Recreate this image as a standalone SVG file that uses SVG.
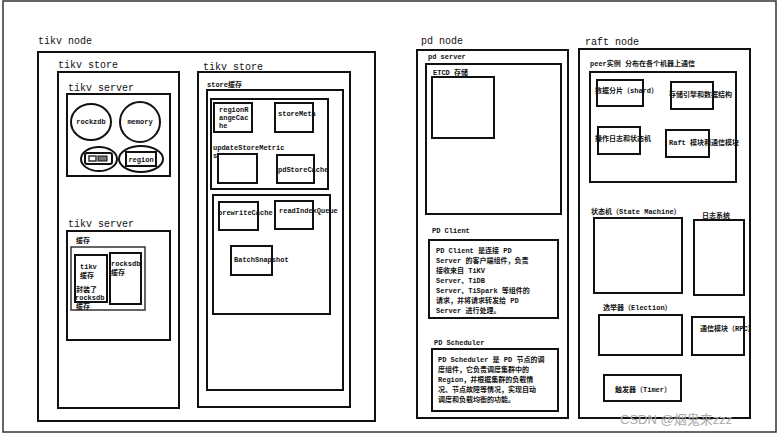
<svg xmlns="http://www.w3.org/2000/svg" width="779" height="435" viewBox="0 0 779 435">
<style>
.b{fill:none;stroke:#111;stroke-width:2}
.t{fill:none;stroke:#333;stroke-width:1.5}
.h{font-family:"Liberation Mono","Noto Sans CJK SC",monospace;font-size:10px;fill:#111}
.s{font-family:"Liberation Mono","Noto Sans CJK SC",monospace;font-size:7px;font-weight:bold;fill:#111}
.w{font-family:"Liberation Sans","Noto Sans CJK SC",sans-serif;font-size:13px;fill:#aaa}
</style>
<rect width="779" height="435" fill="#fff"/>
<rect x="3" y="1" width="773" height="431" class="t"/>
<g id="tikv-node">
<text x="38" y="44" class="h">tikv node</text>
<rect x="38" y="52" width="337" height="369" class="b"/>
</g>
<g id="tikv-store-1">
<text x="58" y="68" class="h">tikv store</text>
<rect x="58" y="72" width="121" height="336" class="b"/>
</g>
<g id="tikv-server-1">
<text x="68" y="91" class="h">tikv server</text>
<rect x="67" y="94" width="103" height="82" class="b"/>
<ellipse cx="91" cy="122" rx="20" ry="18" class="b"/>
<text x="91" y="124" class="s" text-anchor="middle" font-size="6">rockzdb</text>
<ellipse cx="140" cy="122" rx="20" ry="20" class="b"/>
<text x="140" y="124" class="s" text-anchor="middle" font-size="6">memory</text>
<ellipse cx="99" cy="159" rx="18" ry="12" class="b"/>
<rect x="85" y="153" width="27" height="11" rx="2" class="b"/>
<rect x="89" y="156" width="7" height="5" class="t"/>
<rect x="98" y="156" width="9" height="5" fill="#777" stroke="#111"/>
<ellipse cx="141" cy="159" rx="22" ry="13" class="b"/>
<rect x="126" y="152" width="30" height="14" class="b"/>
<text x="141" y="162" class="s" text-anchor="middle" font-size="6">region</text>
</g>
<g id="tikv-server-2">
<text x="68" y="227" class="h">tikv server</text>
<rect x="67" y="231" width="103" height="109" class="b"/>
<text x="76" y="243" class="s">缓存</text>
<rect x="71" y="247" width="74" height="63" class="t"/>
<rect x="75" y="255" width="32" height="47" class="b"/>
<text x="80" y="269" class="s" font-size="6">tikv</text>
<text x="80" y="278" class="s">缓存</text>
<text x="76" y="292" class="s">封装了</text>
<text x="75" y="300" class="s" font-size="6">rocksdb</text>
<text x="76" y="309" class="s">缓存</text>
<rect x="110" y="253" width="31" height="51" class="b"/>
<text x="111" y="266" class="s" font-size="6">rocksdb</text>
<text x="111" y="275" class="s">缓存</text>
</g>
<g id="tikv-store-2">
<text x="203" y="70" class="h">tikv store</text>
<rect x="198" y="72" width="152" height="335" class="b"/>
<text x="207" y="87" class="s" font-size="6">store缓存</text>
<rect x="207" y="90" width="136" height="300" class="b"/>
<rect x="211" y="99" width="117" height="90" class="b"/>
<rect x="214" y="103" width="38" height="29" class="b"/>
<text x="219" y="112" class="s" font-size="6">regionR</text>
<text x="219" y="120" class="s" font-size="6">angeCac</text>
<text x="219" y="128" class="s" font-size="6">he</text>
<rect x="275" y="103" width="38" height="29" class="b"/>
<text x="278" y="116" class="s" font-size="6">storeMeta</text>
<text x="213" y="150" class="s" font-size="6">updateStoreMetric</text>
<text x="213" y="158" class="s" font-size="6">s</text>
<rect x="218" y="154" width="39" height="29" class="b"/>
<rect x="277" y="155" width="37" height="28" class="b"/>
<text x="278" y="172" class="s" font-size="6">pdStoreCache</text>
<rect x="213" y="195" width="117" height="119" class="b"/>
<rect x="219" y="202" width="39" height="28" class="b"/>
<text x="218" y="215" class="s" font-size="6">prewriteCache</text>
<rect x="275" y="201" width="38" height="28" class="b"/>
<text x="279" y="213" class="s" font-size="6">readIndexQueue</text>
<rect x="231" y="246" width="41" height="29" class="b"/>
<text x="234" y="262" class="s" font-size="6">BatchSnapshot</text>
</g>
<g id="pd-node">
<text x="421" y="44" class="h">pd node</text>
<rect x="417" y="50" width="151" height="368" class="b"/>
<text x="428" y="59" class="s" font-size="6">pd server</text>
<rect x="426" y="64" width="135" height="150" class="b"/>
<text x="433" y="75" class="s" font-size="6">ETCD 存储</text>
<rect x="432" y="77" width="62" height="61" class="b"/>
<text x="432" y="233" class="s" font-size="6">PD Client</text>
<rect x="429" y="240" width="129" height="78" class="b"/>
<g class="s" font-size="6">
<text x="436" y="253">PD Client 是连接 PD</text>
<text x="436" y="263">Server 的客户端组件，负责</text>
<text x="436" y="273">接收来自 TiKV</text>
<text x="436" y="283">Server、TiDB</text>
<text x="436" y="293">Server、TiSpark 等组件的</text>
<text x="436" y="303">请求，并将请求转发给 PD</text>
<text x="436" y="313">Server 进行处理。</text>
</g>
<text x="434" y="345" class="s" font-size="6">PD Scheduler</text>
<rect x="432" y="349" width="126" height="62" class="b"/>
<g class="s" font-size="6">
<text x="438" y="362">PD Scheduler 是 PD 节点的调</text>
<text x="438" y="372">度组件，它负责调度集群中的</text>
<text x="438" y="382">Region，并根据集群的负载情</text>
<text x="438" y="392">况、节点故障等情况，实现自动</text>
<text x="438" y="402">调度和负载均衡的功能。</text>
</g>
</g>
<g id="raft-node">
<text x="585" y="45" class="h">raft node</text>
<rect x="579" y="49" width="171" height="369" class="b"/>
<text x="590" y="66" class="s" font-size="6">peer实例  分布在各个机器上通信</text>
<rect x="590" y="72" width="146" height="110" class="b"/>
<rect x="597" y="80" width="46" height="26" class="b"/>
<text x="595" y="93" class="s" font-size="6">数据分片（shard）</text>
<rect x="671" y="82" width="42" height="27" class="b"/>
<text x="669" y="97" class="s" font-size="6">存储引擎和数据结构</text>
<rect x="598" y="127" width="42" height="27" class="b"/>
<text x="595" y="141" class="s" font-size="6">操作日志和状态机</text>
<rect x="666" y="130" width="43" height="27" class="b"/>
<text x="669" y="145" class="s" font-size="6">Raft 模块和通信模块</text>
<text x="591" y="214" class="s" font-size="6">状态机（State Machine）</text>
<rect x="594" y="218" width="88" height="75" class="b"/>
<text x="702" y="218" class="s" font-size="6">日志系统</text>
<rect x="694" y="220" width="50" height="75" class="b"/>
<text x="603" y="310" class="s" font-size="6">选举器（Election）</text>
<rect x="599" y="315" width="83" height="40" class="b"/>
<rect x="692" y="317" width="52" height="38" class="b"/>
<text x="700" y="331" class="s" font-size="6">通信模块（RPC）</text>
<rect x="604" y="375" width="77" height="26" class="b"/>
<text x="615" y="392" class="s" font-size="6">触发器（Timer）</text>
</g>
<g id="connectors"></g>
<text x="620" y="424" class="w">CSDN @烟鬼来zzz</text>
</svg>
